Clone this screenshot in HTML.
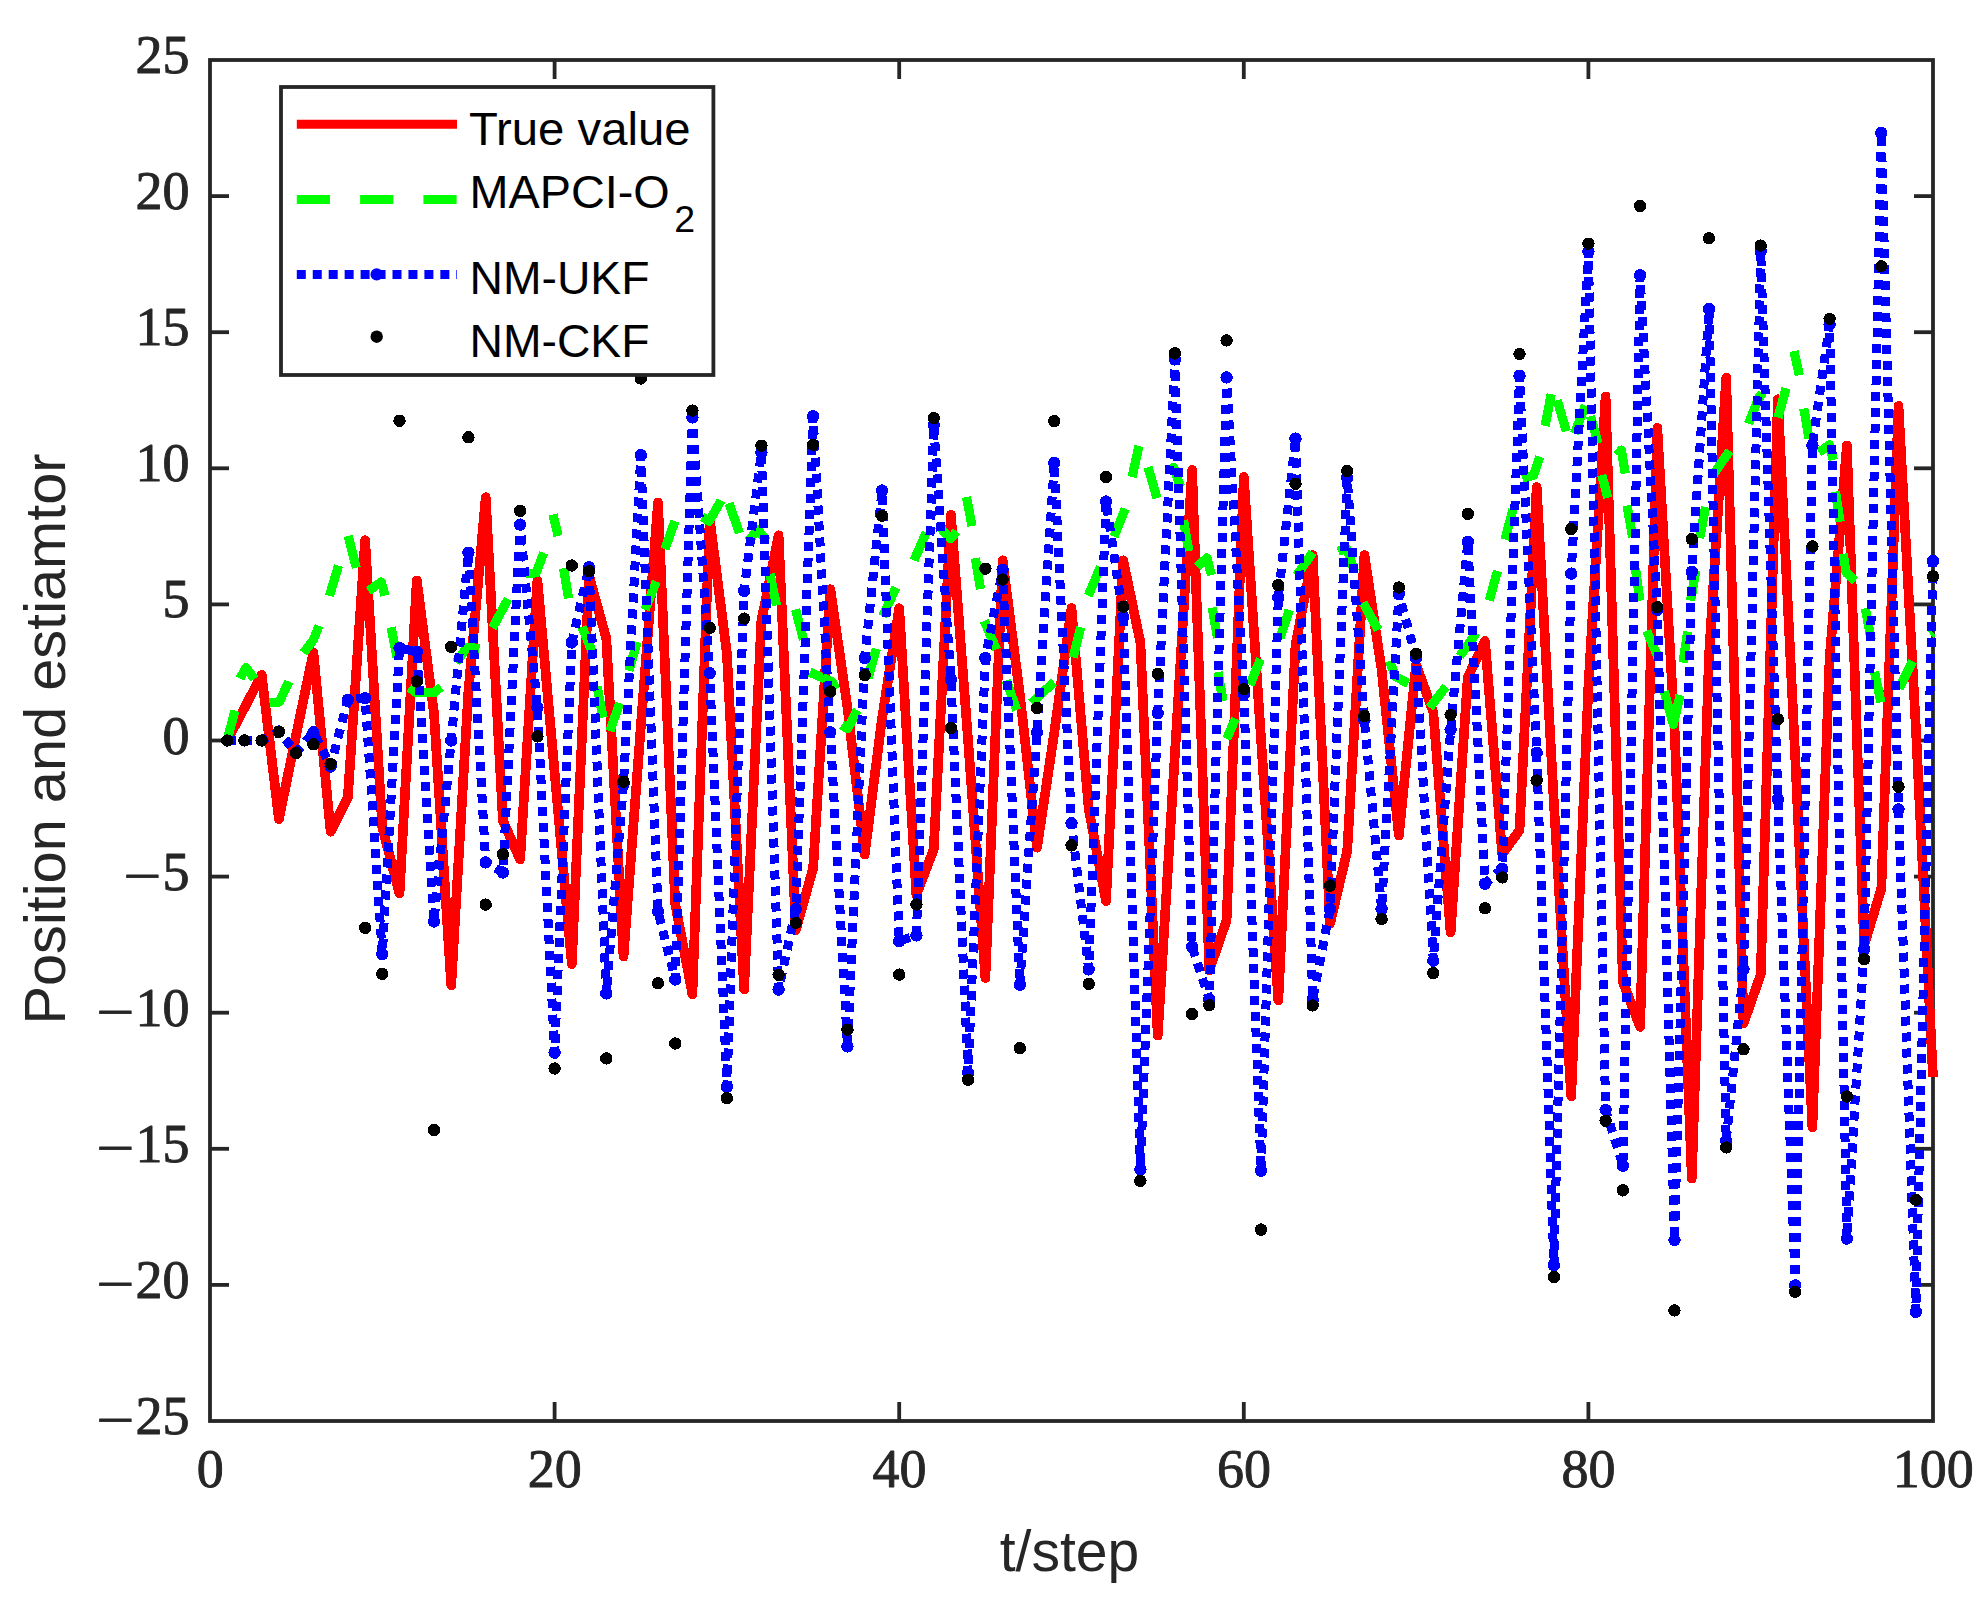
<!DOCTYPE html>
<html lang="en"><head><meta charset="utf-8"><title>Position and estimator</title>
<style>html,body{margin:0;padding:0;background:#fff}svg{display:block}.tk{font-family:"Liberation Serif",serif;font-size:54px;fill:#262626;stroke:#262626;stroke-width:0.9px;stroke-linejoin:round}.lb{font-family:"Liberation Sans",sans-serif;font-size:57.5px;fill:#262626}.lg{font-family:"Liberation Sans",sans-serif;font-size:46.8px;fill:#000}</style></head><body>
<svg width="1986" height="1600" viewBox="0 0 1986 1600">
<rect width="1986" height="1600" fill="#fff"/>
<g stroke="#262626" stroke-width="3.8" fill="none" stroke-linecap="butt">
<rect x="210.0" y="60.0" width="1723.0" height="1361.0"/>
<line x1="554.6" y1="1421.0" x2="554.6" y2="1402.0"/>
<line x1="554.6" y1="60.0" x2="554.6" y2="79.0"/>
<line x1="899.2" y1="1421.0" x2="899.2" y2="1402.0"/>
<line x1="899.2" y1="60.0" x2="899.2" y2="79.0"/>
<line x1="1243.8" y1="1421.0" x2="1243.8" y2="1402.0"/>
<line x1="1243.8" y1="60.0" x2="1243.8" y2="79.0"/>
<line x1="1588.4" y1="1421.0" x2="1588.4" y2="1402.0"/>
<line x1="1588.4" y1="60.0" x2="1588.4" y2="79.0"/>
<line x1="210.0" y1="1284.9" x2="229.0" y2="1284.9"/>
<line x1="1933.0" y1="1284.9" x2="1914.0" y2="1284.9"/>
<line x1="210.0" y1="1148.8" x2="229.0" y2="1148.8"/>
<line x1="1933.0" y1="1148.8" x2="1914.0" y2="1148.8"/>
<line x1="210.0" y1="1012.7" x2="229.0" y2="1012.7"/>
<line x1="1933.0" y1="1012.7" x2="1914.0" y2="1012.7"/>
<line x1="210.0" y1="876.6" x2="229.0" y2="876.6"/>
<line x1="1933.0" y1="876.6" x2="1914.0" y2="876.6"/>
<line x1="210.0" y1="740.5" x2="229.0" y2="740.5"/>
<line x1="1933.0" y1="740.5" x2="1914.0" y2="740.5"/>
<line x1="210.0" y1="604.4" x2="229.0" y2="604.4"/>
<line x1="1933.0" y1="604.4" x2="1914.0" y2="604.4"/>
<line x1="210.0" y1="468.3" x2="229.0" y2="468.3"/>
<line x1="1933.0" y1="468.3" x2="1914.0" y2="468.3"/>
<line x1="210.0" y1="332.2" x2="229.0" y2="332.2"/>
<line x1="1933.0" y1="332.2" x2="1914.0" y2="332.2"/>
<line x1="210.0" y1="196.1" x2="229.0" y2="196.1"/>
<line x1="1933.0" y1="196.1" x2="1914.0" y2="196.1"/>
</g>
<g shape-rendering="crispEdges">
<g fill="none" stroke-linejoin="round">
<polyline points="227.2,740.5 244.5,707.8 261.7,674.9 278.9,819.2 296.1,735.1 313.4,652.3 330.6,831.7 347.8,797.7 365.1,540.2 382.3,827.6 399.5,893.5 416.8,580.4 434.0,713.3 451.2,985.5 468.4,691.5 485.7,497.2 502.9,820.8 520.1,859.5 537.4,580.4 554.6,772.1 571.8,964.0 589.1,576.1 606.3,638.4 623.5,956.6 640.8,726.9 658.0,502.6 675.2,903.8 692.4,994.2 709.7,518.9 726.9,653.4 744.1,989.3 761.4,620.7 778.6,535.3 795.8,930.0 813.1,868.4 830.3,589.2 847.5,707.8 864.7,854.6 882.0,718.7 899.2,608.2 916.4,894.8 933.7,849.4 950.9,514.8 968.1,740.5 985.4,977.9 1002.6,560.3 1019.8,694.2 1037.0,847.7 1054.3,732.3 1071.5,608.2 1088.7,808.5 1106.0,901.1 1123.2,560.3 1140.4,642.5 1157.7,1035.6 1174.9,754.1 1192.1,469.9 1209.3,970.2 1226.6,920.2 1243.8,477.0 1261.0,738.6 1278.3,1000.5 1295.5,645.2 1312.7,555.1 1330.0,923.7 1347.2,851.0 1364.4,555.1 1381.6,669.7 1398.9,835.5 1416.1,664.6 1433.3,712.2 1450.6,932.4 1467.8,677.1 1485.0,640.9 1502.2,854.3 1519.5,830.3 1536.7,487.1 1553.9,803.1 1571.2,1096.3 1588.4,686.1 1605.6,396.4 1622.9,981.9 1640.1,1026.9 1657.3,428.0 1674.5,726.9 1691.8,1178.5 1709.0,656.1 1726.2,377.7 1743.5,1023.6 1760.7,974.6 1777.9,399.2 1795.2,756.8 1812.4,1127.6 1829.6,658.8 1846.9,445.4 1864.1,945.2 1881.3,888.8 1898.5,406.0 1915.8,726.9 1933.0,1076.9" stroke="#ff0000" stroke-width="9.7" stroke-linecap="butt"/>
<g stroke="#00ff00" stroke-width="9.2" stroke-linecap="butt" stroke-linejoin="round">
<polyline points="227.2,739.8 235.0,710.6"/>
<polyline points="240.0,678.5 246.0,667.5 254.5,679.0"/>
<polyline points="269.5,702.5 279.3,702.0 288.8,681.6"/>
<polyline points="303.5,652.9 313.3,640.1 319.0,625.7"/>
<polyline points="329.5,595.8 338.5,565.6"/>
<polyline points="348.3,535.9 356.3,567.6"/>
<polyline points="368.4,591.0 381.3,581.9 385.0,595.5"/>
<polyline points="391.1,627.3 397.1,657.5"/>
<polyline points="409.2,687.4 415.3,692.2 434.9,692.2 440.9,686.9"/>
<polyline points="456.0,662.7 466.6,647.6 479.5,648.4"/>
<polyline points="492.5,628.0 508.0,599.0"/>
<polyline points="525.3,574.0 536.2,572.8 543.7,552.9"/>
<polyline points="553.0,514.4 558.1,536.0"/>
<polyline points="563.5,568.3 568.5,598.2"/>
<polyline points="582.0,626.9 592.5,652.6"/>
<polyline points="597.1,686.6 603.1,717.5"/>
<polyline points="609.9,731.1 619.7,703.2"/>
<polyline points="628.8,670.7 637.1,642.0"/>
<polyline points="645.0,609.8 656.3,581.6"/>
<polyline points="665.0,549.1 674.9,521.1"/>
<polyline points="702.1,516.9 709.3,521.1 721.0,500.5"/>
<polyline points="729.0,503.3 739.5,533.0"/>
<polyline points="748.0,541.1 757.9,529.8 766.9,541.1"/>
<polyline points="770.0,574.0 776.5,605.5"/>
<polyline points="795.5,609.5 803.5,639.5"/>
<polyline points="809.8,672.2 832.5,682.0 835.5,689.0"/>
<polyline points="841.6,725.1 847.6,728.9 857.4,710.0"/>
<polyline points="868.0,678.2 876.3,648.8"/>
<polyline points="882.7,616.3 896.0,587.6"/>
<polyline points="914.1,560.4 926.2,532.5"/>
<polyline points="938.5,525.5 950.3,538.8 956.7,531.5"/>
<polyline points="966.5,497.0 972.0,526.0"/>
<polyline points="975.3,558.2 980.5,589.1"/>
<polyline points="984.3,620.8 996.4,649.5"/>
<polyline points="1006.2,680.5 1016.8,710.0"/>
<polyline points="1031.5,703.0 1054.0,682.0"/>
<polyline points="1073.2,657.5 1080.8,627.3"/>
<polyline points="1088.3,595.6 1100.4,566.9"/>
<polyline points="1114.0,536.7 1125.3,508.7"/>
<polyline points="1132.1,477.0 1138.9,446.0"/>
<polyline points="1148.0,467.2 1157.1,498.2"/>
<polyline points="1167.6,471.7 1173.7,467.2 1180.5,486.8"/>
<polyline points="1183.5,520.1 1188.8,551.0"/>
<polyline points="1197.1,566.9 1206.9,557.8 1211.5,575.2"/>
<polyline points="1212.2,607.7 1217.5,637.9"/>
<polyline points="1218.0,672.0 1223.0,701.0"/>
<polyline points="1226.7,738.8 1235.5,718.6"/>
<polyline points="1250.0,685.0 1260.5,659.0"/>
<polyline points="1280.2,637.9 1289.2,609.9"/>
<polyline points="1296.8,575.2 1312.7,552.5"/>
<polyline points="1338.1,551.4 1346.5,548.0 1354.5,571.0"/>
<polyline points="1363.1,602.7 1378.2,629.9"/>
<polyline points="1389.5,660.9 1395.5,676.7 1408.4,683.5"/>
<polyline points="1429.5,707.7 1446.1,686.6"/>
<polyline points="1459.7,656.3 1476.3,632.9"/>
<polyline points="1489.2,600.5 1497.5,571.0"/>
<polyline points="1505.0,539.6 1513.0,509.5"/>
<polyline points="1522.5,478.8 1533.8,475.0 1539.8,456.9"/>
<polyline points="1545.1,425.9 1551.2,394.2"/>
<polyline points="1557.2,400.2 1566.3,431.2"/>
<polyline points="1574.6,433.5 1585.2,405.5"/>
<polyline points="1590.5,416.1 1598.0,443.3"/>
<polyline points="1601.8,475.0 1607.8,497.7"/>
<polyline points="1617.0,455.0 1621.3,450.0 1625.2,473.5"/>
<polyline points="1627.0,505.5 1632.6,537.0"/>
<polyline points="1635.5,568.9 1640.0,600.6"/>
<polyline points="1646.8,630.8 1658.9,659.5"/>
<polyline points="1664.2,691.3 1673.3,724.5 1680.1,695.0"/>
<polyline points="1683.1,662.6 1687.6,631.6"/>
<polyline points="1690.6,600.6 1695.9,570.4"/>
<polyline points="1699.7,538.0 1705.5,507.0"/>
<polyline points="1713.0,475.0 1729.6,450.8"/>
<polyline points="1748.5,423.7 1759.5,396.0 1764.0,399.0"/>
<polyline points="1778.0,417.6 1786.0,388.2"/>
<polyline points="1794.0,351.1 1799.3,375.3"/>
<polyline points="1803.8,408.5 1809.1,438.8"/>
<polyline points="1818.9,452.4 1829.5,444.8 1833.3,459.9"/>
<polyline points="1835.5,491.6 1840.1,521.8"/>
<polyline points="1843.1,553.8 1846.2,572.8 1855.3,580.8"/>
<polyline points="1865.4,608.3 1871.1,639.7"/>
<polyline points="1874.5,671.8 1881.0,702.4"/>
<polyline points="1899.0,688.6 1912.6,661.4"/>
<polyline points="1930.5,634.5 1933.0,632.5"/>
</g>
<polyline points="227.2,740.5 244.5,740.5 261.7,740.5 278.9,731.5 296.1,752.7 313.4,732.3 330.6,766.6 347.8,699.7 365.1,698.3 382.3,954.2 399.5,648.0 416.8,651.8 434.0,921.5 451.2,740.5 468.4,552.7 485.7,862.4 502.9,872.5 520.1,524.6 537.4,707.8 554.6,1052.7 571.8,642.5 589.1,567.4 606.3,993.4 623.5,784.1 640.8,455.2 658.0,911.4 675.2,979.5 692.4,417.4 709.7,673.3 726.9,1086.7 744.1,590.8 761.4,452.8 778.6,989.6 795.8,909.0 813.1,416.3 830.3,732.3 847.5,1046.5 864.7,658.0 882.0,490.6 899.2,941.1 916.4,935.4 933.7,425.0 950.9,679.5 968.1,1072.9 985.4,658.0 1002.6,569.8 1019.8,984.7 1037.0,732.3 1054.3,462.9 1071.5,823.2 1088.7,969.4 1106.0,501.5 1123.2,616.6 1140.4,1169.5 1157.7,713.3 1174.9,359.4 1192.1,946.8 1209.3,999.6 1226.6,377.4 1243.8,694.2 1261.0,1170.6 1278.3,597.6 1295.5,438.6 1312.7,999.6 1330.0,909.0 1347.2,477.6 1364.4,720.1 1381.6,909.0 1398.9,593.8 1416.1,658.0 1433.3,960.7 1450.6,729.9 1467.8,541.8 1485.0,883.7 1502.2,868.7 1519.5,375.8 1536.7,752.7 1553.9,1265.3 1571.2,573.6 1588.4,251.4 1605.6,1109.9 1622.9,1165.7 1640.1,275.3 1657.3,609.8 1674.5,1240.0 1691.8,571.7 1709.0,308.8 1726.2,1140.6 1743.5,969.4 1760.7,251.4 1777.9,799.3 1795.2,1285.4 1812.4,445.2 1829.6,324.3 1846.9,1238.6 1864.1,949.3 1881.3,132.9 1898.5,809.4 1915.8,1311.8 1933.0,561.1" stroke="#0000ff" stroke-width="9" stroke-dasharray="9 7" stroke-linecap="butt"/>
</g>
<g fill="#0000ff">
<circle cx="227.2" cy="740.5" r="6.2"/>
<circle cx="244.5" cy="740.5" r="6.2"/>
<circle cx="261.7" cy="740.5" r="6.2"/>
<circle cx="278.9" cy="731.5" r="6.2"/>
<circle cx="296.1" cy="752.7" r="6.2"/>
<circle cx="313.4" cy="732.3" r="6.2"/>
<circle cx="330.6" cy="766.6" r="6.2"/>
<circle cx="347.8" cy="699.7" r="6.2"/>
<circle cx="365.1" cy="698.3" r="6.2"/>
<circle cx="382.3" cy="954.2" r="6.2"/>
<circle cx="399.5" cy="648.0" r="6.2"/>
<circle cx="416.8" cy="651.8" r="6.2"/>
<circle cx="434.0" cy="921.5" r="6.2"/>
<circle cx="451.2" cy="740.5" r="6.2"/>
<circle cx="468.4" cy="552.7" r="6.2"/>
<circle cx="485.7" cy="862.4" r="6.2"/>
<circle cx="502.9" cy="872.5" r="6.2"/>
<circle cx="520.1" cy="524.6" r="6.2"/>
<circle cx="537.4" cy="707.8" r="6.2"/>
<circle cx="554.6" cy="1052.7" r="6.2"/>
<circle cx="571.8" cy="642.5" r="6.2"/>
<circle cx="589.1" cy="567.4" r="6.2"/>
<circle cx="606.3" cy="993.4" r="6.2"/>
<circle cx="623.5" cy="784.1" r="6.2"/>
<circle cx="640.8" cy="455.2" r="6.2"/>
<circle cx="658.0" cy="911.4" r="6.2"/>
<circle cx="675.2" cy="979.5" r="6.2"/>
<circle cx="692.4" cy="417.4" r="6.2"/>
<circle cx="709.7" cy="673.3" r="6.2"/>
<circle cx="726.9" cy="1086.7" r="6.2"/>
<circle cx="744.1" cy="590.8" r="6.2"/>
<circle cx="761.4" cy="452.8" r="6.2"/>
<circle cx="778.6" cy="989.6" r="6.2"/>
<circle cx="795.8" cy="909.0" r="6.2"/>
<circle cx="813.1" cy="416.3" r="6.2"/>
<circle cx="830.3" cy="732.3" r="6.2"/>
<circle cx="847.5" cy="1046.5" r="6.2"/>
<circle cx="864.7" cy="658.0" r="6.2"/>
<circle cx="882.0" cy="490.6" r="6.2"/>
<circle cx="899.2" cy="941.1" r="6.2"/>
<circle cx="916.4" cy="935.4" r="6.2"/>
<circle cx="933.7" cy="425.0" r="6.2"/>
<circle cx="950.9" cy="679.5" r="6.2"/>
<circle cx="968.1" cy="1072.9" r="6.2"/>
<circle cx="985.4" cy="658.0" r="6.2"/>
<circle cx="1002.6" cy="569.8" r="6.2"/>
<circle cx="1019.8" cy="984.7" r="6.2"/>
<circle cx="1037.0" cy="732.3" r="6.2"/>
<circle cx="1054.3" cy="462.9" r="6.2"/>
<circle cx="1071.5" cy="823.2" r="6.2"/>
<circle cx="1088.7" cy="969.4" r="6.2"/>
<circle cx="1106.0" cy="501.5" r="6.2"/>
<circle cx="1123.2" cy="616.6" r="6.2"/>
<circle cx="1140.4" cy="1169.5" r="6.2"/>
<circle cx="1157.7" cy="713.3" r="6.2"/>
<circle cx="1174.9" cy="359.4" r="6.2"/>
<circle cx="1192.1" cy="946.8" r="6.2"/>
<circle cx="1209.3" cy="999.6" r="6.2"/>
<circle cx="1226.6" cy="377.4" r="6.2"/>
<circle cx="1243.8" cy="694.2" r="6.2"/>
<circle cx="1261.0" cy="1170.6" r="6.2"/>
<circle cx="1278.3" cy="597.6" r="6.2"/>
<circle cx="1295.5" cy="438.6" r="6.2"/>
<circle cx="1312.7" cy="999.6" r="6.2"/>
<circle cx="1330.0" cy="909.0" r="6.2"/>
<circle cx="1347.2" cy="477.6" r="6.2"/>
<circle cx="1364.4" cy="720.1" r="6.2"/>
<circle cx="1381.6" cy="909.0" r="6.2"/>
<circle cx="1398.9" cy="593.8" r="6.2"/>
<circle cx="1416.1" cy="658.0" r="6.2"/>
<circle cx="1433.3" cy="960.7" r="6.2"/>
<circle cx="1450.6" cy="729.9" r="6.2"/>
<circle cx="1467.8" cy="541.8" r="6.2"/>
<circle cx="1485.0" cy="883.7" r="6.2"/>
<circle cx="1502.2" cy="868.7" r="6.2"/>
<circle cx="1519.5" cy="375.8" r="6.2"/>
<circle cx="1536.7" cy="752.7" r="6.2"/>
<circle cx="1553.9" cy="1265.3" r="6.2"/>
<circle cx="1571.2" cy="573.6" r="6.2"/>
<circle cx="1588.4" cy="251.4" r="6.2"/>
<circle cx="1605.6" cy="1109.9" r="6.2"/>
<circle cx="1622.9" cy="1165.7" r="6.2"/>
<circle cx="1640.1" cy="275.3" r="6.2"/>
<circle cx="1657.3" cy="609.8" r="6.2"/>
<circle cx="1674.5" cy="1240.0" r="6.2"/>
<circle cx="1691.8" cy="571.7" r="6.2"/>
<circle cx="1709.0" cy="308.8" r="6.2"/>
<circle cx="1726.2" cy="1140.6" r="6.2"/>
<circle cx="1743.5" cy="969.4" r="6.2"/>
<circle cx="1760.7" cy="251.4" r="6.2"/>
<circle cx="1777.9" cy="799.3" r="6.2"/>
<circle cx="1795.2" cy="1285.4" r="6.2"/>
<circle cx="1812.4" cy="445.2" r="6.2"/>
<circle cx="1829.6" cy="324.3" r="6.2"/>
<circle cx="1846.9" cy="1238.6" r="6.2"/>
<circle cx="1864.1" cy="949.3" r="6.2"/>
<circle cx="1881.3" cy="132.9" r="6.2"/>
<circle cx="1898.5" cy="809.4" r="6.2"/>
<circle cx="1915.8" cy="1311.8" r="6.2"/>
<circle cx="1933.0" cy="561.1" r="6.2"/>
</g>
<g fill="#000">
<circle cx="227.2" cy="740.5" r="6.2"/>
<circle cx="244.5" cy="740.5" r="6.2"/>
<circle cx="261.7" cy="740.5" r="6.2"/>
<circle cx="278.9" cy="731.8" r="6.2"/>
<circle cx="296.1" cy="753.0" r="6.2"/>
<circle cx="313.4" cy="744.3" r="6.2"/>
<circle cx="330.6" cy="763.9" r="6.2"/>
<circle cx="365.1" cy="927.8" r="6.2"/>
<circle cx="382.3" cy="973.8" r="6.2"/>
<circle cx="399.5" cy="420.7" r="6.2"/>
<circle cx="416.8" cy="681.4" r="6.2"/>
<circle cx="434.0" cy="1130.0" r="6.2"/>
<circle cx="451.2" cy="646.9" r="6.2"/>
<circle cx="468.4" cy="437.3" r="6.2"/>
<circle cx="485.7" cy="904.6" r="6.2"/>
<circle cx="502.9" cy="854.3" r="6.2"/>
<circle cx="520.1" cy="510.8" r="6.2"/>
<circle cx="537.4" cy="736.4" r="6.2"/>
<circle cx="554.6" cy="1068.5" r="6.2"/>
<circle cx="571.8" cy="565.5" r="6.2"/>
<circle cx="589.1" cy="571.2" r="6.2"/>
<circle cx="606.3" cy="1058.4" r="6.2"/>
<circle cx="623.5" cy="781.6" r="6.2"/>
<circle cx="640.8" cy="378.5" r="6.2"/>
<circle cx="658.0" cy="983.3" r="6.2"/>
<circle cx="675.2" cy="1043.5" r="6.2"/>
<circle cx="692.4" cy="410.6" r="6.2"/>
<circle cx="709.7" cy="627.8" r="6.2"/>
<circle cx="726.9" cy="1098.2" r="6.2"/>
<circle cx="744.1" cy="618.6" r="6.2"/>
<circle cx="761.4" cy="445.7" r="6.2"/>
<circle cx="778.6" cy="974.9" r="6.2"/>
<circle cx="795.8" cy="922.9" r="6.2"/>
<circle cx="813.1" cy="444.6" r="6.2"/>
<circle cx="830.3" cy="691.5" r="6.2"/>
<circle cx="847.5" cy="1029.6" r="6.2"/>
<circle cx="864.7" cy="675.2" r="6.2"/>
<circle cx="882.0" cy="515.7" r="6.2"/>
<circle cx="899.2" cy="974.6" r="6.2"/>
<circle cx="916.4" cy="904.6" r="6.2"/>
<circle cx="933.7" cy="418.2" r="6.2"/>
<circle cx="950.9" cy="728.0" r="6.2"/>
<circle cx="968.1" cy="1079.7" r="6.2"/>
<circle cx="985.4" cy="568.7" r="6.2"/>
<circle cx="1002.6" cy="579.6" r="6.2"/>
<circle cx="1019.8" cy="1048.1" r="6.2"/>
<circle cx="1037.0" cy="708.1" r="6.2"/>
<circle cx="1054.3" cy="421.2" r="6.2"/>
<circle cx="1071.5" cy="845.3" r="6.2"/>
<circle cx="1088.7" cy="983.8" r="6.2"/>
<circle cx="1106.0" cy="477.0" r="6.2"/>
<circle cx="1123.2" cy="606.6" r="6.2"/>
<circle cx="1140.4" cy="1180.9" r="6.2"/>
<circle cx="1157.7" cy="673.8" r="6.2"/>
<circle cx="1174.9" cy="353.4" r="6.2"/>
<circle cx="1192.1" cy="1014.1" r="6.2"/>
<circle cx="1209.3" cy="1005.1" r="6.2"/>
<circle cx="1226.6" cy="340.4" r="6.2"/>
<circle cx="1243.8" cy="689.1" r="6.2"/>
<circle cx="1261.0" cy="1229.6" r="6.2"/>
<circle cx="1278.3" cy="585.1" r="6.2"/>
<circle cx="1295.5" cy="483.8" r="6.2"/>
<circle cx="1312.7" cy="1005.4" r="6.2"/>
<circle cx="1330.0" cy="885.6" r="6.2"/>
<circle cx="1347.2" cy="471.0" r="6.2"/>
<circle cx="1364.4" cy="716.0" r="6.2"/>
<circle cx="1381.6" cy="919.1" r="6.2"/>
<circle cx="1398.9" cy="587.5" r="6.2"/>
<circle cx="1416.1" cy="653.7" r="6.2"/>
<circle cx="1433.3" cy="973.2" r="6.2"/>
<circle cx="1450.6" cy="714.9" r="6.2"/>
<circle cx="1467.8" cy="513.8" r="6.2"/>
<circle cx="1485.0" cy="908.4" r="6.2"/>
<circle cx="1502.2" cy="877.4" r="6.2"/>
<circle cx="1519.5" cy="354.0" r="6.2"/>
<circle cx="1536.7" cy="780.5" r="6.2"/>
<circle cx="1553.9" cy="1277.0" r="6.2"/>
<circle cx="1571.2" cy="529.0" r="6.2"/>
<circle cx="1588.4" cy="243.7" r="6.2"/>
<circle cx="1605.6" cy="1120.8" r="6.2"/>
<circle cx="1622.9" cy="1190.4" r="6.2"/>
<circle cx="1640.1" cy="205.9" r="6.2"/>
<circle cx="1657.3" cy="607.1" r="6.2"/>
<circle cx="1674.5" cy="1310.5" r="6.2"/>
<circle cx="1691.8" cy="539.1" r="6.2"/>
<circle cx="1709.0" cy="238.3" r="6.2"/>
<circle cx="1726.2" cy="1147.4" r="6.2"/>
<circle cx="1743.5" cy="1049.2" r="6.2"/>
<circle cx="1760.7" cy="245.6" r="6.2"/>
<circle cx="1777.9" cy="719.3" r="6.2"/>
<circle cx="1795.2" cy="1291.7" r="6.2"/>
<circle cx="1812.4" cy="546.4" r="6.2"/>
<circle cx="1829.6" cy="318.9" r="6.2"/>
<circle cx="1846.9" cy="1096.5" r="6.2"/>
<circle cx="1864.1" cy="959.3" r="6.2"/>
<circle cx="1881.3" cy="266.3" r="6.2"/>
<circle cx="1898.5" cy="786.8" r="6.2"/>
<circle cx="1915.8" cy="1199.7" r="6.2"/>
<circle cx="1933.0" cy="576.4" r="6.2"/>
</g>
</g>
<text class="tk" x="210.2" y="1487" text-anchor="middle">0</text>
<text class="tk" x="554.8" y="1487" text-anchor="middle">20</text>
<text class="tk" x="899.4" y="1487" text-anchor="middle">40</text>
<text class="tk" x="1244.0" y="1487" text-anchor="middle">60</text>
<text class="tk" x="1588.6" y="1487" text-anchor="middle">80</text>
<text class="tk" x="1933.2" y="1487" text-anchor="middle">100</text>
<text class="tk" x="96.3" y="1438.0" textLength="38" lengthAdjust="spacingAndGlyphs">−</text>
<text class="tk" x="189.6" y="1434.0" text-anchor="end">25</text>
<text class="tk" x="96.3" y="1301.9" textLength="38" lengthAdjust="spacingAndGlyphs">−</text>
<text class="tk" x="189.6" y="1297.9" text-anchor="end">20</text>
<text class="tk" x="96.3" y="1165.8" textLength="38" lengthAdjust="spacingAndGlyphs">−</text>
<text class="tk" x="189.6" y="1161.8" text-anchor="end">15</text>
<text class="tk" x="96.3" y="1029.7" textLength="38" lengthAdjust="spacingAndGlyphs">−</text>
<text class="tk" x="189.6" y="1025.7" text-anchor="end">10</text>
<text class="tk" x="123.3" y="893.6" textLength="38" lengthAdjust="spacingAndGlyphs">−</text>
<text class="tk" x="189.6" y="889.6" text-anchor="end">5</text>
<text class="tk" x="189.6" y="753.5" text-anchor="end">0</text>
<text class="tk" x="189.6" y="617.4" text-anchor="end">5</text>
<text class="tk" x="189.6" y="481.3" text-anchor="end">10</text>
<text class="tk" x="189.6" y="345.2" text-anchor="end">15</text>
<text class="tk" x="189.6" y="209.1" text-anchor="end">20</text>
<text class="tk" x="189.6" y="73.0" text-anchor="end">25</text>
<text class="lb" x="1069.5" y="1570.5" textLength="139.5" lengthAdjust="spacingAndGlyphs" text-anchor="middle">t/step</text>
<text class="lb" transform="translate(65,739) rotate(-90)" text-anchor="middle" textLength="571" lengthAdjust="spacingAndGlyphs">Position and estiamtor</text>
<rect x="281" y="87" width="432.4" height="288" fill="#fff" stroke="#262626" stroke-width="3.8"/>
<line x1="296.8" y1="124.3" x2="457" y2="124.3" stroke="#ff0000" stroke-width="9"/>
<line x1="296.8" y1="199.4" x2="457" y2="199.4" stroke="#00ff00" stroke-width="9" stroke-dasharray="33.2 30.1"/>
<line x1="296.8" y1="274.4" x2="457" y2="274.4" stroke="#0000ff" stroke-width="9" stroke-dasharray="9 6.95"/>
<circle cx="376.7" cy="274.4" r="6.2" fill="#0000ff"/>
<circle cx="376.7" cy="336.7" r="6.2" fill="#000"/>
<text class="lg" x="469" y="144.6" textLength="221.5" lengthAdjust="spacingAndGlyphs">True value</text>
<text class="lg" x="469.5" y="208">MAPCI-O<tspan font-size="37.5px" dy="23.6" dx="4.5">2</tspan></text>
<text class="lg" x="469.5" y="293.7" textLength="180" lengthAdjust="spacingAndGlyphs">NM-UKF</text>
<text class="lg" x="469.5" y="356.5" textLength="180" lengthAdjust="spacingAndGlyphs">NM-CKF</text>
</svg></body></html>
